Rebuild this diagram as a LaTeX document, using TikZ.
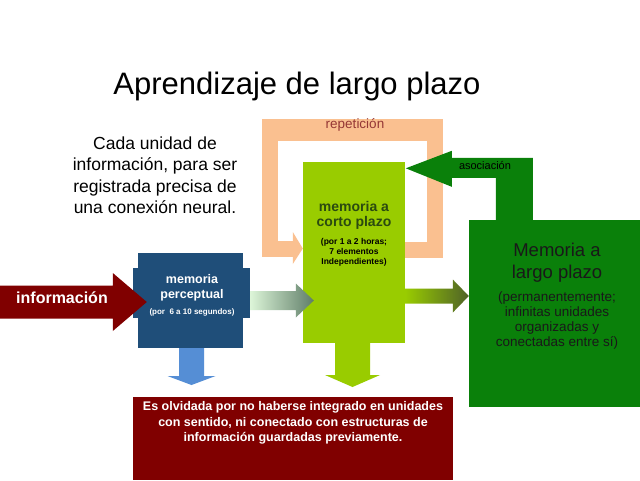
\documentclass[tikz,border=0pt]{standalone}
\usepackage{fontspec}
\setmainfont{Liberation Sans}
\usetikzlibrary{calc}

\definecolor{rojo}{HTML}{800000}
\definecolor{azul}{HTML}{1F4E79}
\definecolor{azulclaro}{HTML}{558ED5}
\definecolor{verdepalido}{HTML}{DDF5D8}
\definecolor{grisverde}{HTML}{5E7D68}
\definecolor{lima}{HTML}{99CC00}
\definecolor{durazno}{HTML}{FAC090}
\definecolor{verdeosc}{HTML}{0A800A}
\definecolor{oliva}{HTML}{4F6228}
\definecolor{ladrillo}{HTML}{953735}
\definecolor{verdetxt}{HTML}{2B4A10}

% block arrows: style, start, tip, half shaft, half head, head length
\newcommand{\flechaR}[6]{%
  \path[#1] let \p1=(#2), \p2=(#3) in
    (\x1,\y1+#4) -- (\x2-#6,\y1+#4) -- (\x2-#6,\y1+#5) -- (\x2,\y1)
    -- (\x2-#6,\y1-#5) -- (\x2-#6,\y1-#4) -- (\x1,\y1-#4) -- cycle;}
\newcommand{\flechaD}[6]{%
  \path[#1] let \p1=(#2), \p2=(#3) in
    (\x1-#4,\y1) -- (\x1-#4,\y2+#6) -- (\x1-#5,\y2+#6) -- (\x1,\y2)
    -- (\x1+#5,\y2+#6) -- (\x1+#4,\y2+#6) -- (\x1+#4,\y1) -- cycle;}

\begin{document}
\begin{tikzpicture}[x=1pt,y=-1pt,
  caja/.style={rectangle,inner sep=0pt,draw=none},
  txt/.style={inner sep=0pt,align=center}]
	\fill[white] (0,0) rectangle (640,480);
	\useasboundingbox (0,0) rectangle (640,480);

	\node[txt,font=\fontsize{31}{37}\selectfont] (titulo) at (297,86.5) {Aprendizaje de largo plazo};
	\node[txt,font=\fontsize{17.5}{21.5}\selectfont] (nota) at (155,175)
		{Cada unidad de\\información, para ser\\registrada precisa de\\una conexión neural.};

	\node[caja,fill=lima,minimum width=102pt,minimum height=181pt] (corto) at (354,252.5) {};
	\node[caja,fill=verdeosc,minimum width=171pt,minimum height=187pt] (largo) at (554.5,313.5) {};

	\coordinate (repA) at (435,130);
	\coordinate (repB) at (269.5,130);
	\draw[durazno,line width=16pt] ([yshift=3pt]corto.east) -| (repA) -- (repB) |- ([xshift=-10pt,yshift=4pt]corto.west);
	\fill[durazno] ([xshift=-7.5pt,yshift=11pt]repB) rectangle ([xshift=8pt,yshift=-11pt]repA);
	\fill[durazno] ([xshift=-10pt,yshift=20.5pt]corto.west) -- ([yshift=4pt]corto.west) -- ([xshift=-10pt,yshift=-11.5pt]corto.west) -- cycle;
	\node[txt,text=ladrillo,font=\fontsize{13.5}{16}\selectfont] (rep) at (355,125) {repetición};

	\fill[verdeosc] ([xshift=27pt]largo.north west) -- ++(0,-42) -- ++(-44,0) -- ++(0,9) -- ++(-46,-18.5)
		-- ++(46,-17.5) -- ++(0,7) -- ++(81,0) -- ++(0,62) -- cycle;
	\node[txt,font=\fontsize{11}{13}\selectfont] (asoc) at (485,165) {asociación};

	\node[caja,fill=azul,minimum width=105pt,minimum height=95pt] (perc) at (190.5,300.5) {};
	\fill[azul] (133,268) rectangle (250,318);

	\coordinate (inicio) at (0,302);
	\flechaR{fill=rojo}{inicio}{[xshift=9pt]perc.west}{16.5pt}{29pt}{34pt}
	\node[txt,text=white,font=\bfseries\fontsize{16}{19}\selectfont] (info) at (62,298) {información};

	\coordinate (percfin) at (191.5,385);
	\flechaD{fill=azulclaro}{[xshift=1pt]perc.south}{percfin}{12.5pt}{24pt}{9pt}
	\flechaR{left color=verdepalido,right color=grisverde}{[xshift=7pt]perc.east}{[xshift=11pt]corto.west}{9.5pt}{17pt}{18pt}

	\coordinate (cortofin) at (352.5,387);
	\flechaD{fill=lima}{[xshift=-1.5pt]corto.south}{cortofin}{17.5pt}{27.5pt}{12pt}
	\flechaR{left color=lima,right color=oliva}{[yshift=-43.5pt]corto.east}{largo.west}{7.5pt}{16.5pt}{16pt}

	\node[txt,text=white,font=\bfseries\fontsize{12.5}{15}\selectfont] (perct) at (192,287.5) {memoria\\perceptual};
	\node[txt,text=white,font=\bfseries\fontsize{8}{10}\selectfont] (percs) at (192,312) {(por~ 6 a 10 segundos)};

	\node[txt,text=verdetxt,font=\bfseries\fontsize{14}{15.5}\selectfont] (cortot) at (354,215.5) {memoria a\\corto plazo};
	\node[txt,font=\bfseries\fontsize{8.5}{10}\selectfont] (cortos) at (354,252.5) {(por 1 a 2 horas;\\7 elementos\\Independientes)};

	\node[txt,text=black!90,font=\fontsize{18.5}{21.5}\selectfont] (largot) at (557,262.5) {Memoria a\\largo plazo};
	\node[txt,text=black!90,font=\fontsize{13.5}{14.8}\selectfont] (largos) at (557,320.5)
		{(permanentemente;\\infinitas unidades\\organizadas y\\conectadas entre sí)};

	\node[caja,fill=rojo,minimum width=320pt,minimum height=83pt] (olvido) at (293,438.5) {};
	\node[txt,text=white,font=\bfseries\fontsize{12.5}{15.5}\selectfont] (olvidot) at (293,423)
		{Es olvidada por no haberse integrado en unidades\\con sentido, ni conectado con estructuras de\\información guardadas previamente.};
\end{tikzpicture}
\end{document}
